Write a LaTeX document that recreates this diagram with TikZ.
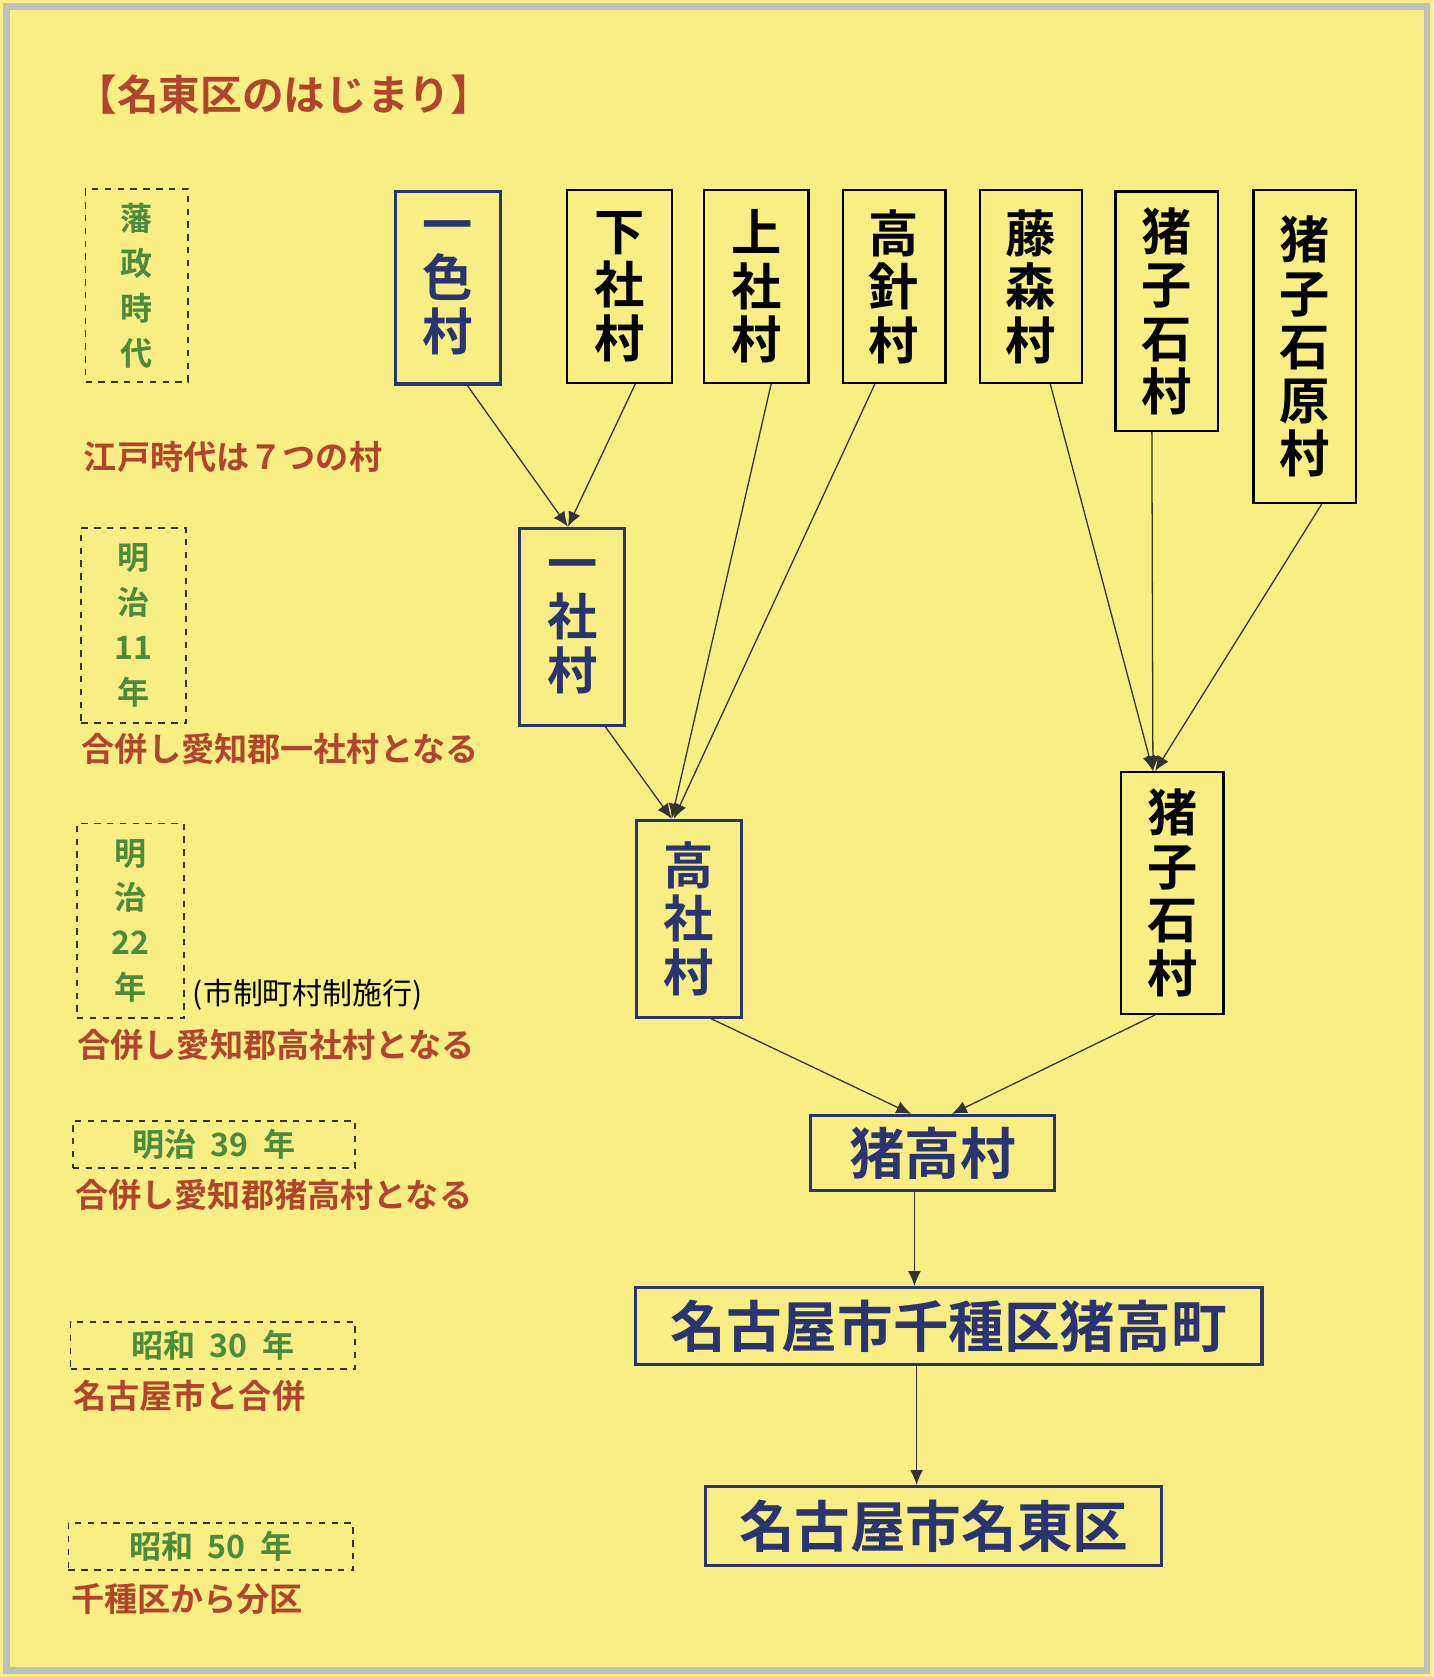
\documentclass[tikz,border=0pt]{standalone}
\usepackage{fontspec}
\setmainfont{Noto Sans CJK JP}[BoldFont={Noto Sans CJK JP Bold}]
\usetikzlibrary{arrows.meta,positioning}
\definecolor{paper}{HTML}{F9EE84}
\definecolor{navy}{HTML}{2A3470}
\definecolor{rust}{HTML}{B0452C}
\definecolor{leaf}{HTML}{4C8A3C}
\tikzset{
  vill/.style={draw=black,line width=1pt,fill=paper,font=\bfseries\fontsize{23.5}{25}\selectfont,align=center,inner sep=0pt},
  bvill/.style={vill,draw=navy,line width=1.5pt,text=navy},
  wide/.style={bvill,font=\bfseries\fontsize{26}{28}\selectfont},
  era/.style={draw=black!80,dashed,line width=0.8pt,text=leaf,font=\bfseries\fontsize{15}{21}\selectfont,align=center,inner sep=0pt},
  note/.style={text=rust,font=\bfseries\fontsize{15.5}{17}\selectfont,anchor=west,inner sep=0pt},
  link/.style={draw=black!80,line width=0.6pt,-{Latex[length=7pt,width=6pt]}}
}
\begin{document}
\begin{tikzpicture}[x=0.5pt,y=-0.5pt]
  \fill[paper] (0,0) rectangle (1340,1568);
  \draw[black!25,line width=3pt] (6,6) rectangle (1334,1562);
  \useasboundingbox (0,0) rectangle (1340,1568);
  % title and eras
  \node[text=rust,font=\bfseries\fontsize{19.5}{21}\selectfont,anchor=west,inner sep=0pt] (title) at (70,88) {【名東区のはじまり】};
  \node[era,minimum width=48pt,minimum height=90pt] (hansei) at (128,267) {藩\\政\\時\\代};
  \node[note] (edo) at (78,427) {江戸時代は７つの村};
  \node[era,minimum width=49pt,minimum height=91pt] (m11) at (125,585) {明\\治\\11\\年};
  \node[note] (n11) at (76,700) {合併し愛知郡一社村となる};
  \node[era,minimum width=50pt,minimum height=91pt] (m22) at (122,861) {明\\治\\22\\年};
  \node[anchor=west,font=\fontsize{14}{16}\selectfont,inner sep=0pt] (sisei) at (180,930) {(市制町村制施行)};
  \node[note] (n22) at (72,977) {合併し愛知郡高社村となる};
  \node[era,minimum width=132pt,minimum height=22pt] (m39) at (200,1070) {明治\ \ 39\ \ 年};
  \node[note] (n39) at (70,1117) {合併し愛知郡猪高村となる};
  \node[era,minimum width=133pt,minimum height=22pt] (s30) at (199,1258) {昭和\ \ 30\ \ 年};
  \node[note] (n30) at (68,1305) {名古屋市と合併};
  \node[era,minimum width=133pt,minimum height=22pt] (s50) at (197,1446) {昭和\ \ 50\ \ 年};
  \node[note] (n50) at (66,1495) {千種区から分区};
  % villages
  \node[bvill,minimum width=49pt,minimum height=90pt] (isshiki) at (419,269) {一\\色\\村};
  \node[vill,minimum width=49pt,minimum height=90pt] (shimo) at (579,268) {下\\社\\村};
  \node[vill,minimum width=49pt,minimum height=90pt] (kami) at (707,268) {上\\社\\村};
  \node[vill,minimum width=48pt,minimum height=90pt] (takabari) at (836,268) {高\\針\\村};
  \node[vill,minimum width=48pt,minimum height=90pt] (fujimori) at (964,268) {藤\\森\\村};
  \node[vill,minimum width=48pt,minimum height=112pt] (inokoishi) at (1091,291) {猪\\子\\石\\村};
  \node[vill,minimum width=48pt,minimum height=146pt] (inokoishihara) at (1220,324) {猪\\子\\石\\原\\村};
  \node[bvill,minimum width=49pt,minimum height=92pt] (issha) at (535,586) {一\\社\\村};
  \node[bvill,minimum width=49pt,minimum height=92pt] (takayashiro) at (644,859) {高\\社\\村};
  \node[vill,minimum width=48pt,minimum height=113pt] (inoko2) at (1096,835) {猪\\子\\石\\村};
  \node[wide,minimum width=114pt,minimum height=35pt] (inotaka) at (872,1078) {猪高村};
  \node[wide,minimum width=293pt,minimum height=36pt] (chikusa) at (887,1240) {名古屋市千種区猪高町};
  \node[wide,minimum width=213pt,minimum height=37pt] (meito) at (873,1427) {名古屋市名東区};
  % connectors
  \draw[link] ([xshift=9pt]isshiki.south) -- ([xshift=-2pt]issha.north);
  \draw[link] ([xshift=7.5pt]shimo.south) -- ([xshift=-2pt]issha.north);
  \draw[link] ([xshift=15.5pt]issha.south) -- ([xshift=-8pt]takayashiro.north);
  \draw[link] ([xshift=7pt]kami.south) -- ([xshift=-8pt]takayashiro.north);
  \draw[link] ([xshift=-9pt]takabari.south) -- ([xshift=-7pt]takayashiro.north);
  \draw[link] ([xshift=9pt]fujimori.south) -- ([xshift=-9pt]inoko2.north);
  \draw[link] ([xshift=-7pt]inokoishi.south) -- ([xshift=-9pt]inoko2.north);
  \draw[link] ([xshift=8pt]inokoishihara.south) -- ([xshift=-8pt]inoko2.north);
  \draw[link] ([xshift=10.5pt]takayashiro.south) -- ([xshift=-10pt]inotaka.north);
  \draw[link] ([xshift=-8pt]inoko2.south) -- ([xshift=9pt]inotaka.north);
  \draw[link] ([xshift=-8.5pt]inotaka.south) -- ([xshift=-16pt]chikusa.north);
  \draw[link] ([xshift=-15pt]chikusa.south) -- ([xshift=-8pt]meito.north);
\end{tikzpicture}
\end{document}
